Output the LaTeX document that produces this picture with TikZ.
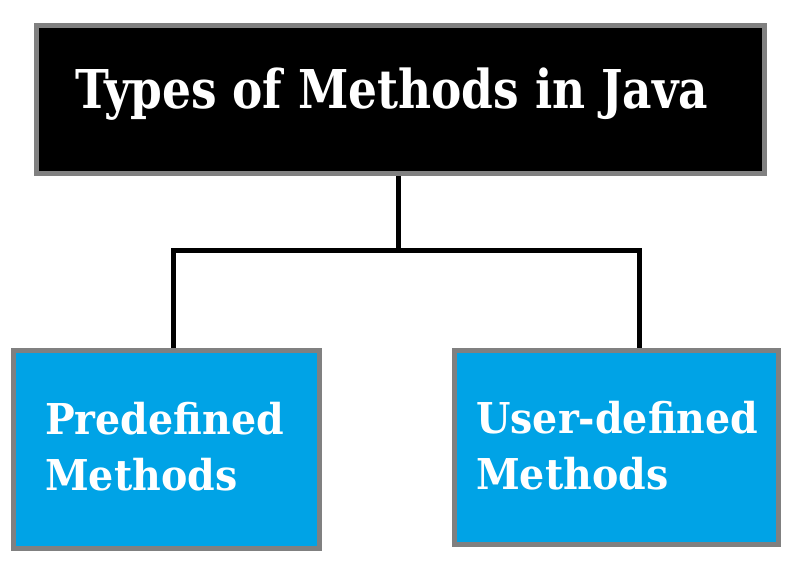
\documentclass[tikz,border=0pt]{standalone}
\usepackage{fontspec}
\setmainfont{DejaVu Serif}
\newfontfamily\titlefont{DejaVu Serif}[FakeStretch=0.85]
\newfontfamily\boxfont{DejaVu Serif}[FakeStretch=0.93]
\definecolor{boxgray}{HTML}{808080}
\definecolor{boxblue}{HTML}{00A3E6}
\begin{document}
\begin{tikzpicture}[x=1pt,y=-1pt,
  box/.style={draw=boxgray,line width=5pt,inner sep=0pt,rectangle},
  conn/.style={draw=black,line width=5pt,line join=miter},
  titletext/.style={text=white,font=\titlefont\fontsize{53.5}{60}\selectfont\bfseries,inner sep=0pt,anchor=base west},
  boxtext/.style={text=white,font=\boxfont\fontsize{42.5}{56}\selectfont\bfseries,inner sep=0pt,anchor=base west}]
\useasboundingbox (0,0) rectangle (808,575);
\node[box,fill=black,minimum width=728pt,minimum height=148pt] (top) at (400.5,99.5) {};
\node[box,fill=boxblue,minimum width=306pt,minimum height=198pt] (left) at (166.5,449.5) {};
\node[box,fill=boxblue,minimum width=324pt,minimum height=194pt] (right) at (616.5,447.5) {};
\coordinate (mj) at (398,250);
\coordinate (lj) at (173,250);
\coordinate (rj) at (639,250);
\draw[conn] (top.south -| mj) -- (mj);
\draw[conn] (left.north -| lj) -- (lj) -- (rj) -- (right.north -| rj);
\node[titletext] (title) at (75,109) {Types of Methods in Java};
\node[boxtext] (l1) at (45,434) {Predefined};
\node[boxtext] (l2) at (45,490) {Methods};
\node[boxtext] (r1) at (476,433) {User-defined};
\node[boxtext] (r2) at (476,489) {Methods};
\end{tikzpicture}
\end{document}
